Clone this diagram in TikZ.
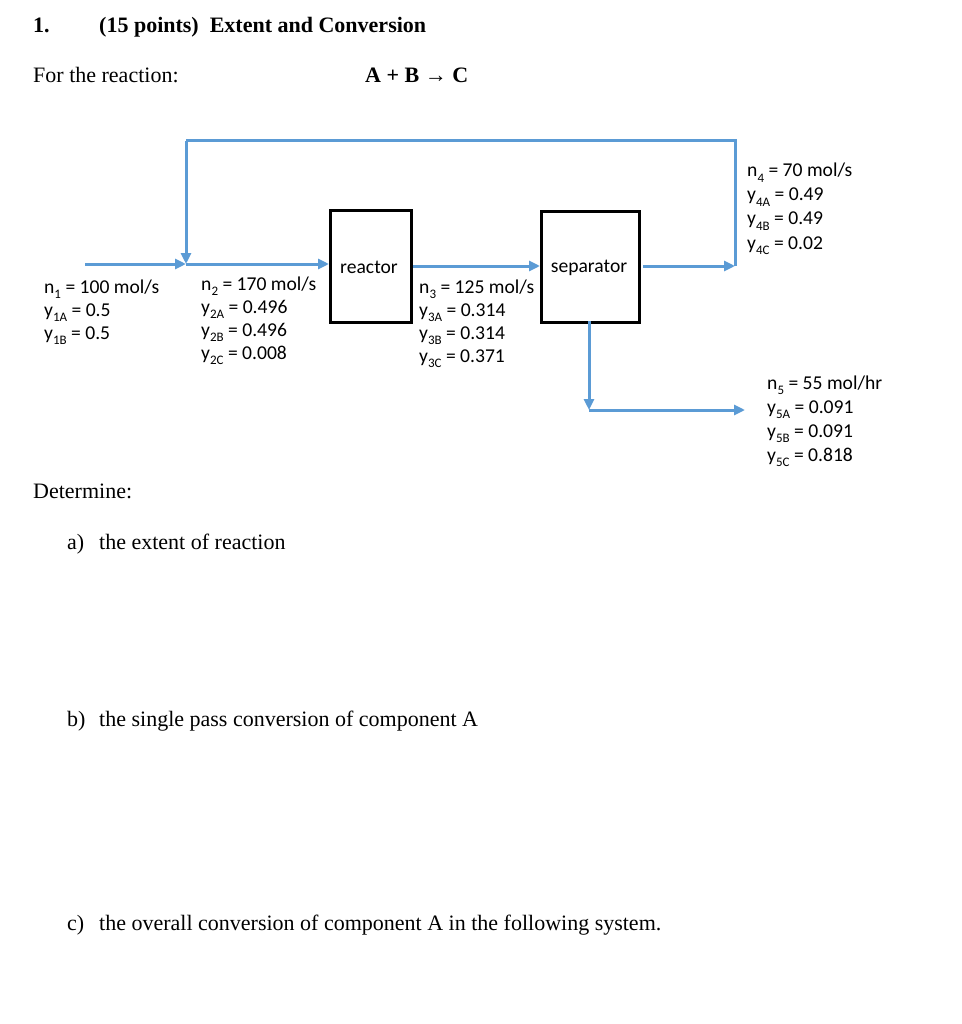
\documentclass[tikz,border=0pt]{standalone}
\usepackage{fontspec}
\setmainfont{Liberation Serif}
\newfontfamily\lab{Carlito}
\usetikzlibrary{arrows.meta}
\definecolor{flow}{RGB}{91,155,213}
\newcommand\sbs[1]{\raisebox{-0.28em}{\fontsize{13}{13}\selectfont #1}}
\tikzset{
  stream/.style={draw=flow,line width=3pt,-{Triangle[length=11pt,width=10pt]}},
  plain/.style={draw=flow,line width=3pt},
  unit/.style={draw=black,line width=2.8pt,minimum width=#1},
  lbl/.style={anchor=base west,inner sep=0pt,font=\lab\fontsize{19.6}{23}\selectfont},
  txt/.style={anchor=base west,inner sep=0pt,font=\fontsize{22}{26}\selectfont},
  hd/.style={anchor=base west,inner sep=0pt,font=\bfseries\fontsize{22}{26}\selectfont},
}
\begin{document}
\begin{tikzpicture}[x=1pt,y=-1pt]
\useasboundingbox (0,0) rectangle (961,1024);
% headings
\node[hd] (num) at (33,33) {1.};
\node[hd] (title) at (99,33) {(15 points)\ \ Extent and Conversion};
\node[txt] (for) at (33,83) {For the reaction:};
\node[hd] (rxn) at (365,83) {A + B → C};
% units
\node[unit=81pt,minimum height=112pt,anchor=north west] (reactor) at (329,209) {};
\node[lbl,anchor=center] (rt) at (369,267) {reactor};
\node[unit=98pt,minimum height=111pt,anchor=north west] (sep) at (540,210) {};
\node[lbl,anchor=center] (st) at (589,268) {separator};
% coordinates
\coordinate (feed) at (85,264);
\coordinate (mix) at (186,264);
\coordinate (mixtop) at (186,141);
\coordinate (rtop) at (735,141);
\coordinate (rout) at (735,266);
\coordinate (sout) at (643,266);
\coordinate (bot) at (589,321);
\coordinate (botc) at (589,410);
\coordinate (prod) at (745,410);
% streams
\draw[stream] (feed) -- (mix);
\draw[stream] (mix) -- (reactor.west |- mix);
\draw[stream] (reactor.east |- 0,266) -- (sep.west |- 0,266);
\draw[stream] (sout) -- (rout);
\draw[plain] (rout) -- (rtop) -- (mixtop);
\draw[stream] (mixtop) -- (mix);
\draw[stream] (bot) -- (botc);
\draw[stream] (botc) -- (prod);
% labels stream 1
\node[lbl] (n1) at (44,293) {n\sbs{1} = 100 mol/s};
\node[lbl] (y1a) at (44,316) {y\sbs{1A} = 0.5};
\node[lbl] (y1b) at (44,339) {y\sbs{1B} = 0.5};
% stream 2
\node[lbl] (n2) at (201,290) {n\sbs{2} = 170 mol/s};
\node[lbl] (y2a) at (201,313) {y\sbs{2A} = 0.496};
\node[lbl] (y2b) at (201,336) {y\sbs{2B} = 0.496};
\node[lbl] (y2c) at (201,359) {y\sbs{2C} = 0.008};
% stream 3
\node[lbl] (n3) at (419,293) {n\sbs{3} = 125 mol/s};
\node[lbl] (y3a) at (419,316) {y\sbs{3A} = 0.314};
\node[lbl] (y3b) at (419,339) {y\sbs{3B} = 0.314};
\node[lbl] (y3c) at (419,362) {y\sbs{3C} = 0.371};
% stream 4
\node[lbl] (n4) at (747,177) {n\sbs{4} = 70 mol/s};
\node[lbl] (y4a) at (747,201) {y\sbs{4A} = 0.49};
\node[lbl] (y4b) at (747,225) {y\sbs{4B} = 0.49};
\node[lbl] (y4c) at (747,249) {y\sbs{4C} = 0.02};
% stream 5
\node[lbl] (n5) at (767,389) {n\sbs{5} = 55 mol/hr};
\node[lbl] (y5a) at (767,413) {y\sbs{5A} = 0.091};
\node[lbl] (y5b) at (767,437) {y\sbs{5B} = 0.091};
\node[lbl] (y5c) at (767,461) {y\sbs{5C} = 0.818};
% questions
\node[txt] (det) at (33,498) {Determine:};
\node[txt] (qa) at (67,549) {a)};
\node[txt] (qat) at (99,549) {the extent of reaction};
\node[txt] (qb) at (67,726) {b)};
\node[txt] (qbt) at (99,726) {the single pass conversion of component A};
\node[txt] (qc) at (67,930) {c)};
\node[txt] (qct) at (99,930) {the overall conversion of component A in the following system.};
\end{tikzpicture}
\end{document}
